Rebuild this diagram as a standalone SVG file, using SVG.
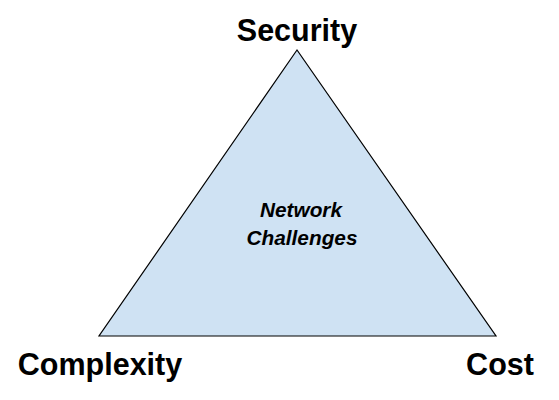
<svg xmlns="http://www.w3.org/2000/svg" width="559" height="400" viewBox="0 0 559 400">
<style>
.lbl{font-family:"Liberation Sans",Arial,sans-serif;font-weight:bold;font-size:30.5px;fill:#000;text-anchor:middle}
.in{font-family:"Liberation Sans",Arial,sans-serif;font-weight:bold;font-style:italic;font-size:20.8px;fill:#000;text-anchor:middle}
</style>
<rect width="559" height="400" fill="#fff"/>
<g id="triangle">
<polygon points="297,50 99,336 496,336" fill="#cfe2f3" stroke="#000" stroke-width="1.2" stroke-linejoin="miter"/>
<text class="in" x="301" y="217">Network</text>
<text class="in" x="302" y="245">Challenges</text>
</g>
<g id="security"><text class="lbl" x="297" y="41">Security</text></g>
<g id="complexity"><text class="lbl" x="100" y="375">Complexity</text></g>
<g id="cost"><text class="lbl" x="500" y="375">Cost</text></g>
<g id="connectors"></g>
</svg>
